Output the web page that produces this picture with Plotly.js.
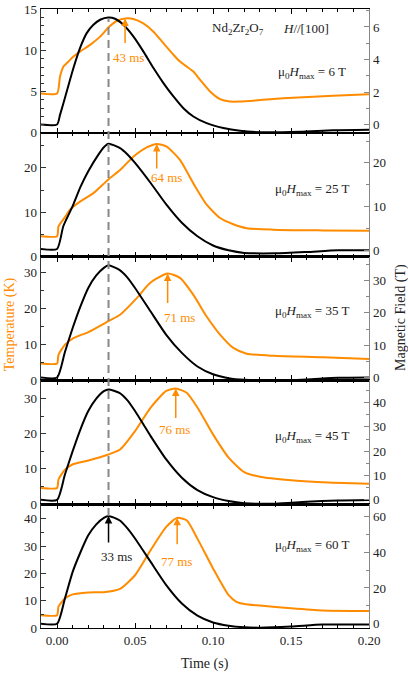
<!DOCTYPE html>
<html>
<head>
<meta charset="utf-8">
<script src="https://cdn.plot.ly/plotly-3.0.1.min.js"></script>
<style>
  html, body { margin: 0; padding: 0; background: #fff; }
  #chart { width: 408px; height: 673px; }
</style>
</head>
<body>
<div id="chart"></div>
<script>
// ------------------------------------------------------------
// data
// ------------------------------------------------------------

// 6 T
const tempTime6 = [-0.0103, 0.0, 0.0019, 0.0041, 0.0073, 0.0105, 0.0147, 0.0212, 0.0276, 0.0329, 0.0382, 0.0436, 0.0489, 0.0553, 0.0618, 0.0682, 0.0746, 0.0788, 0.0831, 0.0874, 0.0917, 0.0981, 0.1045, 0.1109, 0.1173, 0.145, 0.177, 0.20]
const temp6 = [4.78, 4.78, 6.84, 8.06, 8.67, 9.27, 9.88, 10.7, 11.7, 12.8, 13.6, 13.9, 13.85, 13.3, 12.3, 10.9, 9.5, 8.67, 8.06, 7.45, 6.44, 5.02, 4.09, 3.8, 3.8, 4.2, 4.5, 4.7]
const fieldTime6 = [-0.0103, 0.0, 0.0019, 0.0062, 0.0105, 0.0147, 0.019, 0.0233, 0.0276, 0.0329, 0.0372, 0.0425, 0.0489, 0.0553, 0.0618, 0.0682, 0.0746, 0.081, 0.0874, 0.0959, 0.1066, 0.1173, 0.13, 0.156, 0.177, 0.20]
const field6 = [0.02, 0.02, 0.61, 2.04, 3.48, 4.7, 5.62, 6.13, 6.44, 6.58, 6.5, 6.13, 5.42, 4.5, 3.48, 2.56, 1.74, 1.02, 0.51, 0.1, -0.2, -0.37, -0.45, -0.42, -0.33, -0.3]

// 25 T
const tempTime25 = [-0.0103, 0.0, 0.0009, 0.0051, 0.0083, 0.0147, 0.0233, 0.0329, 0.0404, 0.0489, 0.0575, 0.0639, 0.0703, 0.0788, 0.0874, 0.0959, 0.1045, 0.113, 0.1216, 0.1387, 0.1707, 0.20]
const temp25 = [4.6, 4.6, 6.8, 8.9, 10.6, 12.4, 14.3, 17.4, 19.5, 22.5, 24.6, 25.4, 24.8, 21.8, 16.5, 11.7, 8.7, 7.3, 6.4, 6.07, 5.9, 5.8]
const fieldTime25 = [-0.0103, 0.0, 0.004, 0.01, 0.015, 0.02, 0.0265, 0.03, 0.033, 0.0404, 0.045, 0.05, 0.06, 0.07, 0.08, 0.09, 0.10, 0.11, 0.12, 0.14, 0.16, 0.18, 0.20]
const field25 = [0.3, 0.3, 5.5, 10.1, 14.5, 18.1, 21.9, 23.6, 24.4, 23.4, 22.0, 20.0, 15.4, 10.5, 6.3, 3.2, 1.1, 0.0, -0.6, -0.7, -0.4, 0.0, 0.0]

// 35 T
const tempTime35 = [-0.0103, 0.0, 0.0009, 0.0051, 0.0105, 0.0201, 0.0329, 0.0404, 0.0511, 0.0596, 0.0709, 0.0788, 0.0874, 0.0959, 0.1045, 0.113, 0.1216, 0.1387, 0.1707, 0.20]
const temp35 = [4.7, 4.7, 7.1, 9.9, 11.7, 13.4, 16.4, 18.2, 22.8, 27.0, 29.6, 28.4, 23.7, 17.7, 12.7, 9.0, 7.4, 6.8, 6.4, 5.9]
const fieldTime35 = [-0.0103, 0.0, 0.005, 0.01, 0.015, 0.02, 0.025, 0.03, 0.033, 0.04, 0.045, 0.05, 0.06, 0.07, 0.08, 0.09, 0.10, 0.11, 0.12, 0.14, 0.16, 0.18, 0.20]
const field35 = [0, 0, 7.8, 15.3, 22.0, 27.7, 31.5, 33.9, 34.7, 33.3, 31.0, 27.7, 20.4, 13.2, 7.6, 3.4, 1.0, -0.2, -0.7, -0.9, -0.6, -0.1, 0]

// 45 T
const tempTime45 = [-0.0103, 0.0, 0.0009, 0.0051, 0.0105, 0.0201, 0.0329, 0.0404, 0.05, 0.06, 0.07, 0.0761, 0.0831, 0.09, 0.10, 0.11, 0.12, 0.13, 0.15, 0.17, 0.20]
const temp45 = [4.6, 4.6, 7.0, 9.8, 11.4, 12.4, 14.1, 15.5, 20.7, 27.4, 32.1, 32.8, 31.6, 27.4, 19.8, 13.2, 9.1, 7.8, 6.8, 6.25, 5.8]
const fieldTime45 = [-0.0103, 0.0, 0.005, 0.01, 0.015, 0.02, 0.025, 0.03, 0.033, 0.04, 0.045, 0.05, 0.06, 0.07, 0.08, 0.09, 0.10, 0.11, 0.12, 0.14, 0.16, 0.18, 0.20]
const field45 = [0, 0, 10.3, 20.0, 29.0, 36.5, 41.5, 44.7, 45.4, 44.0, 41.0, 36.5, 26.2, 16.6, 9.1, 4.0, 1.1, -0.5, -1.4, -1.6, -0.8, -0.3, -0.1]

// 60 T
const tempTime60 = [-0.0103, 0.0, 0.0009, 0.005, 0.01, 0.02, 0.03, 0.04, 0.05, 0.06, 0.07, 0.077, 0.0831, 0.09, 0.10, 0.11, 0.115, 0.12, 0.13, 0.15, 0.17, 0.20]
const temp60 = [4.7, 4.7, 7.8, 10.8, 12.3, 13.0, 13.1, 14.2, 19.3, 28.5, 37.0, 40.3, 39.4, 32.7, 21.8, 12.0, 9.6, 8.8, 8.2, 7.2, 6.4, 6.2]
const fieldTime60 = [-0.0103, 0.0, 0.005, 0.01, 0.015, 0.02, 0.025, 0.03, 0.033, 0.04, 0.045, 0.05, 0.06, 0.07, 0.08, 0.09, 0.10, 0.11, 0.12, 0.13, 0.15, 0.17, 0.20]
const field60 = [0, 0, 14.0, 29.0, 40.0, 49.5, 55.5, 59.2, 60.3, 57.9, 53.5, 47.7, 34.6, 21.6, 11.3, 4.5, 0.7, -1.1, -2.0, -2.2, -1.6, -0.5, -0.4]

const fieldLabels = ['6 T', '25 T', '35 T', '45 T', '60 T']
const peakLabels = ['43 ms', '64 ms', '71 ms', '76 ms', '77 ms']
const tempRanges = [[0, 15.06], [0, 27.9], [0, 34.3], [0, 35.1], [0, 45.3]]
const fieldRanges = [[-0.49, 7.1], [-1.45, 26.9], [-0.9, 37.4], [-1.8, 49.1], [-2.4, 66.9]]

// ------------------------------------------------------------
// layout
// ------------------------------------------------------------

const ORANGE = '#ff8c00'
const FONT = '"Liberation Serif", "Times New Roman", serif'

const panels = [
    {tt: tempTime6, t: temp6, ft: fieldTime6, f: field6, tDt: 5, tMinor: 1, fDt: 2, fMinor: 1},
    {tt: tempTime25, t: temp25, ft: fieldTime25, f: field25, tDt: 10, tMinor: 5, fDt: 10, fMinor: 5},
    {tt: tempTime35, t: temp35, ft: fieldTime35, f: field35, tDt: 10, tMinor: 5, fDt: 10, fMinor: 5},
    {tt: tempTime45, t: temp45, ft: fieldTime45, f: field45, tDt: 10, tMinor: 5, fDt: 10, fMinor: 5},
    {tt: tempTime60, t: temp60, ft: fieldTime60, f: field60, tDt: 10, tMinor: 5, fDt: 20, fMinor: 10}
]

// 矢印と文字の位置 (paper座標)
const textPos = [
    {peak: [0.046, 0.921], ay: 26, field: 0.898},
    {peak: [0.0703, 0.727], ay: 26, field: 0.708},
    {peak: [0.0784, 0.501], ay: 31, field: 0.511},
    {peak: [0.0756, 0.321], ay: 31, field: 0.310},
    {peak: [0.0767, 0.108], ay: 28, field: 0.134}
]

const traces = []
const layout = {
    width: 408,
    height: 673,
    margin: {l: 41, r: 39, t: 9, b: 45},
    paper_bgcolor: '#fff',
    plot_bgcolor: '#fff',
    showlegend: false,
    font: {family: FONT, size: 13, color: '#222'},
    annotations: [],
    shapes: []
}

function argMax(arr) {
    let k = 0
    for (let i = 1; i < arr.length; i++) if (arr[i] > arr[k]) k = i
    return k
}

function label(x, y, xref, text, color, extra) {
    return Object.assign({
        x: x, y: y, xref: xref, yref: 'paper',
        xanchor: 'center', yanchor: 'middle',
        text: text, showarrow: false,
        font: {family: FONT, size: 13, color: color}
    }, extra || {})
}

panels.forEach((p, i) => {
    const n = i + 1
    const xs = n === 1 ? '' : String(n)
    const yl = n === 1 ? '' : String(2 * n - 1)
    const yr = String(2 * n)
    const top = 1 - i * 0.2
    const bottom = 1 - n * 0.2

    traces.push({
        x: p.tt, y: p.t, xaxis: 'x' + xs, yaxis: 'y' + yl,
        type: 'scatter', mode: 'lines',
        line: {color: ORANGE, width: 2, shape: 'spline', smoothing: 0.6},
        hoverinfo: 'skip'
    })
    traces.push({
        x: p.ft, y: p.f, xaxis: 'x' + xs, yaxis: 'y' + yr,
        type: 'scatter', mode: 'lines',
        line: {color: '#000', width: 2, shape: 'spline', smoothing: 0.6},
        hoverinfo: 'skip'
    })

    layout['xaxis' + xs] = {
        domain: [0, 1],
        anchor: 'y' + yl,
        range: [-0.0103, 0.2],
        dtick: 0.05,
        tickformat: '.2f',
        showticklabels: n === 5,
        ticks: 'inside', ticklen: 5, tickwidth: 1, tickcolor: '#000',
        minor: {dtick: 0.01, ticks: 'inside', ticklen: 3, tickcolor: '#000'},
        showline: true, linecolor: '#000', linewidth: 1.3,
        mirror: 'ticks',
        showgrid: false, zeroline: false,
        tickfont: {family: FONT, size: 13, color: '#222'}
    }
    if (n > 1) layout['xaxis' + xs].matches = 'x'

    layout['yaxis' + yl] = {
        domain: [bottom, top],
        anchor: 'x' + xs,
        range: tempRanges[i],
        dtick: p.tDt,
        ticks: 'inside', ticklen: 5, tickwidth: 1, tickcolor: '#333',
        minor: {dtick: p.tMinor, ticks: 'inside', ticklen: 3, tickcolor: '#333'},
        showline: true, linecolor: '#333', linewidth: 1.3,
        showgrid: false, zeroline: false,
        tickfont: {family: FONT, size: 13, color: '#222'}
    }
    layout['yaxis' + yr] = {
        overlaying: 'y' + yl,
        side: 'right',
        anchor: 'x' + xs,
        range: fieldRanges[i],
        dtick: p.fDt,
        ticks: 'inside', ticklen: 5, tickwidth: 1, tickcolor: '#888',
        minor: {dtick: p.fMinor, ticks: 'inside', ticklen: 3, tickcolor: '#888'},
        showline: true, linecolor: '#888', linewidth: 1.3,
        showgrid: false, zeroline: false,
        tickfont: {family: FONT, size: 13, color: '#222'}
    }

    // 温度のピークに矢印
    const k = argMax(p.t)
    layout.annotations.push({
        x: p.tt[k], y: p.t[k], xref: 'x' + xs, yref: 'y' + yl,
        text: '', showarrow: true, ax: 0, ay: textPos[i].ay,
        arrowcolor: ORANGE, arrowhead: 2, arrowsize: 1, arrowwidth: 1.5
    })
    layout.annotations.push(label(textPos[i].peak[0], textPos[i].peak[1], 'x' + xs, peakLabels[i], ORANGE))
    layout.annotations.push(label(0.1637, textPos[i].field, 'x' + xs,
        'μ<sub>0</sub><i>H</i><sub>max</sub> = ' + fieldLabels[i], '#222'))
})

// 磁場のピーク (60 T)
const kf = argMax(field60)
layout.annotations.push({
    x: fieldTime60[kf], y: field60[kf], xref: 'x5', yref: 'y10',
    text: '', showarrow: true, ax: 0, ay: 28,
    arrowcolor: '#000', arrowhead: 2, arrowsize: 1, arrowwidth: 1.5
})
layout.annotations.push(label(0.0378, 0.115, 'x5', '33 ms', '#222'))

// タイトル類
layout.annotations.push(
    label(0.1157, 0.9692, 'x', 'Nd<sub>2</sub>Zr<sub>2</sub>O<sub>7</sub>', '#222'),
    label(0.1595, 0.9692, 'x', '<i>H</i>//[100]', '#222'),
    label(0.5, -0.0576, 'paper', 'Time (s)', '#222', {font: {family: FONT, size: 14, color: '#222'}}),
    label(-0.096, 0.49, 'paper', 'Temperature (K)', ORANGE,
        {textangle: -90, font: {family: FONT, size: 14, color: ORANGE}}),
    label(1.0976, 0.501, 'paper', 'Magnetic Field (T)', '#222',
        {textangle: -90, font: {family: FONT, size: 14, color: '#222'}})
)

// 33 ms の破線
layout.shapes.push({
    type: 'line', xref: 'x', yref: 'paper',
    x0: 0.033, x1: 0.033, y0: 0.181, y1: 0.9855,
    line: {color: '#888', width: 2, dash: '8px,5px'}
})

Plotly.newPlot('chart', traces, layout, {displayModeBar: false, staticPlot: true})
</script>
</body>
</html>
